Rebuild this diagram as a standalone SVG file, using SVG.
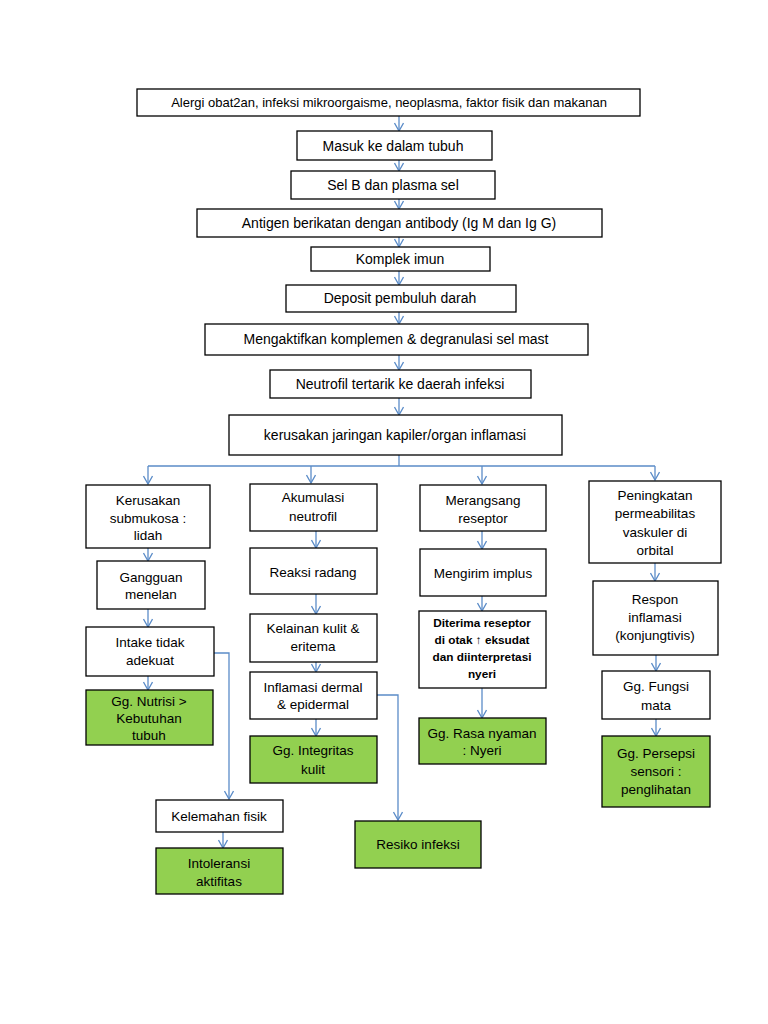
<svg xmlns="http://www.w3.org/2000/svg" width="768" height="1024" viewBox="0 0 768 1024">
<style>
.b{fill:#fff;stroke:#000;stroke-width:1.3}
.g{fill:#92D050;stroke:#000;stroke-width:1.3}
text{font-family:"Liberation Sans",Arial,sans-serif;font-size:13.5px;fill:#000;text-anchor:middle;dominant-baseline:central}
.m{font-size:14px}
.s{font-size:11.8px;font-weight:bold}
.t{font-size:13px}
.c{fill:none;stroke:#5B8CC8;stroke-width:1.3}
</style>
<defs>
<marker id="a" markerUnits="userSpaceOnUse" markerWidth="10" markerHeight="10" viewBox="0 0 10 10" refX="9" refY="5" orient="auto">
<path d="M1,0.5 L9,5 L1,9.5" fill="none" stroke="#5B8CC8" stroke-width="1.3"/>
</marker>
</defs>
<rect width="768" height="1024" fill="#fff"/>
<g id="connectors">
<path class="c" d="M399,116 V131" marker-end="url(#a)"/>
<path class="c" d="M399,160 V171" marker-end="url(#a)"/>
<path class="c" d="M399,199 V209" marker-end="url(#a)"/>
<path class="c" d="M399,237 V247" marker-end="url(#a)"/>
<path class="c" d="M399,271 V285" marker-end="url(#a)"/>
<path class="c" d="M399,312 V324" marker-end="url(#a)"/>
<path class="c" d="M399,355 V370" marker-end="url(#a)"/>
<path class="c" d="M399,398 V415" marker-end="url(#a)"/>
<path class="c" d="M399,455 V466 M148,466 H655"/>
<path class="c" d="M148,466 V484" marker-end="url(#a)"/>
<path class="c" d="M311,466 V483" marker-end="url(#a)"/>
<path class="c" d="M482,466 V484" marker-end="url(#a)"/>
<path class="c" d="M655,466 V480" marker-end="url(#a)"/>
<path class="c" d="M148,548 V561" marker-end="url(#a)"/>
<path class="c" d="M148,609 V627" marker-end="url(#a)"/>
<path class="c" d="M148,676 V690" marker-end="url(#a)"/>
<path class="c" d="M316,531 V548" marker-end="url(#a)"/>
<path class="c" d="M316,594 V614" marker-end="url(#a)"/>
<path class="c" d="M316,662 V672" marker-end="url(#a)"/>
<path class="c" d="M316,719 V736" marker-end="url(#a)"/>
<path class="c" d="M482,531 V549" marker-end="url(#a)"/>
<path class="c" d="M482,596 V611" marker-end="url(#a)"/>
<path class="c" d="M482,688 V718" marker-end="url(#a)"/>
<path class="c" d="M655,563 V581" marker-end="url(#a)"/>
<path class="c" d="M656,655 V671" marker-end="url(#a)"/>
<path class="c" d="M656,719 V736" marker-end="url(#a)"/>
<path class="c" d="M214,653 H229 V799" marker-end="url(#a)"/>
<path class="c" d="M223,832 V848" marker-end="url(#a)"/>
<path class="c" d="M377,695 H398 V820" marker-end="url(#a)"/>
</g>
<g id="n1"><rect class="b" x="137" y="89" width="503" height="27"/><text class="t" x="389" y="102">Alergi obat2an, infeksi mikroorgaisme, neoplasma, faktor fisik dan makanan</text></g>
<g id="n2"><rect class="b" x="297" y="131" width="195" height="29"/><text class="m" x="393" y="146">Masuk ke dalam tubuh</text></g>
<g id="n3"><rect class="b" x="291" y="171" width="204" height="28"/><text class="m" x="393" y="185">Sel B dan plasma sel</text></g>
<g id="n4"><rect class="b" x="197" y="209" width="405" height="28"/><text class="m" x="399" y="223">Antigen berikatan dengan antibody (Ig M dan Ig G)</text></g>
<g id="n5"><rect class="b" x="311" y="247" width="179" height="24"/><text class="m" x="400" y="259">Komplek imun</text></g>
<g id="n6"><rect class="b" x="286" y="285" width="230" height="27"/><text class="m" x="400" y="298">Deposit pembuluh darah</text></g>
<g id="n7"><rect class="b" x="205" y="324" width="383" height="31"/><text class="m" x="396" y="339">Mengaktifkan komplemen &amp; degranulasi sel mast</text></g>
<g id="n8"><rect class="b" x="270" y="370" width="261" height="28"/><text class="m" x="400" y="384">Neutrofil tertarik ke daerah infeksi</text></g>
<g id="n9"><rect class="b" x="229" y="415" width="333" height="40"/><text class="m" x="395" y="435">kerusakan jaringan kapiler/organ inflamasi</text></g>

<g id="c1a"><rect class="b" x="86" y="485" width="124" height="63"/><text x="148" y="500">Kerusakan</text><text x="148" y="518">submukosa :</text><text x="148" y="535">lidah</text></g>
<g id="c1b"><rect class="b" x="97" y="561" width="108" height="48"/><text x="151" y="577">Gangguan</text><text x="151" y="594">menelan</text></g>
<g id="c1c"><rect class="b" x="86" y="627" width="128" height="49"/><text x="150" y="642">Intake tidak</text><text x="150" y="660">adekuat</text></g>
<g id="c1d"><rect class="g" x="86" y="690" width="127" height="55"/><text x="149" y="701">Gg. Nutrisi &gt;</text><text x="149" y="718">Kebutuhan</text><text x="149" y="735">tubuh</text></g>

<g id="c2a"><rect class="b" x="250" y="484" width="127" height="47"/><text x="313" y="497">Akumulasi</text><text x="313" y="516">neutrofil</text></g>
<g id="c2b"><rect class="b" x="250" y="548" width="127" height="46"/><text x="313" y="572">Reaksi radang</text></g>
<g id="c2c"><rect class="b" x="250" y="614" width="127" height="48"/><text x="313" y="628">Kelainan kulit &amp;</text><text x="313" y="646">eritema</text></g>
<g id="c2d"><rect class="b" x="250" y="672" width="127" height="47"/><text x="313" y="687">Inflamasi dermal</text><text x="313" y="704">&amp; epidermal</text></g>
<g id="c2e"><rect class="g" x="250" y="736" width="127" height="47"/><text x="313" y="750">Gg. Integritas</text><text x="313" y="769">kulit</text></g>

<g id="c3a"><rect class="b" x="420" y="485" width="126" height="46"/><text x="483" y="500">Merangsang</text><text x="483" y="518">reseptor</text></g>
<g id="c3b"><rect class="b" x="420" y="549" width="126" height="47"/><text x="483" y="573">Mengirim implus</text></g>
<g id="c3c"><rect class="b" x="419" y="611" width="127" height="77"/><text class="s" x="482" y="623">Diterima reseptor</text><text class="s" x="482" y="640">di otak ↑ eksudat</text><text class="s" x="482" y="657">dan diinterpretasi</text><text class="s" x="482" y="674">nyeri</text></g>
<g id="c3d"><rect class="g" x="419" y="718" width="127" height="46"/><text x="482" y="733">Gg. Rasa nyaman</text><text x="482" y="750">: Nyeri</text></g>

<g id="c4a"><rect class="b" x="589" y="481" width="132" height="82"/><text x="655" y="495">Peningkatan</text><text x="655" y="513">permeabilitas</text><text x="655" y="532">vaskuler di</text><text x="655" y="550">orbital</text></g>
<g id="c4b"><rect class="b" x="593" y="581" width="125" height="74"/><text x="655" y="599">Respon</text><text x="655" y="617">inflamasi</text><text x="655" y="635">(konjungtivis)</text></g>
<g id="c4c"><rect class="b" x="602" y="671" width="108" height="48"/><text x="656" y="686">Gg. Fungsi</text><text x="656" y="705">mata</text></g>
<g id="c4d"><rect class="g" x="602" y="736" width="108" height="71"/><text x="656" y="753">Gg. Persepsi</text><text x="656" y="771">sensori :</text><text x="656" y="789">penglihatan</text></g>

<g id="k1"><rect class="b" x="156" y="800" width="127" height="32"/><text x="219" y="816">Kelemahan fisik</text></g>
<g id="k2"><rect class="g" x="156" y="848" width="127" height="46"/><text x="219" y="863">Intoleransi</text><text x="219" y="881">aktifitas</text></g>
<g id="r1"><rect class="g" x="355" y="821" width="126" height="47"/><text x="418" y="844">Resiko infeksi</text></g>
</svg>
